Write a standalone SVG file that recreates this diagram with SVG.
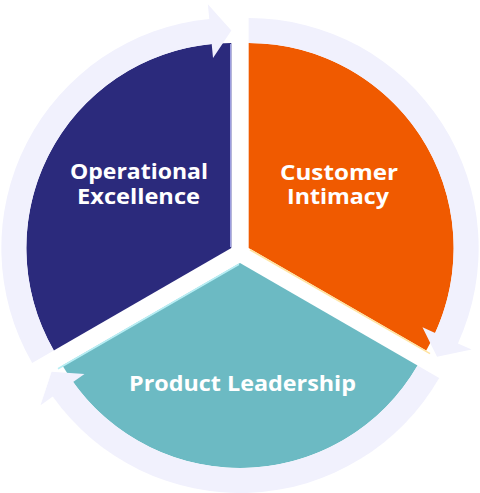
<svg xmlns="http://www.w3.org/2000/svg" width="480" height="493" viewBox="0 0 480 493">
  <style>
    .lbl { font-family: "Open Sans", "Liberation Sans", sans-serif; font-weight: 700; font-size: 22px; fill: #ffffff; text-anchor: middle; }
    .ring { fill: #F1F1FD; }
  </style>
  <rect x="0" y="0" width="480" height="493" fill="#ffffff"/>
  <g id="node-operational-excellence">
    <path d="M 231.34 248 L 231.34 43 A 205 205 0 0 0 53.80 350.5 Z" fill="#2B2A7C"/>
    <line x1="230.6" y1="44" x2="230.6" y2="247" stroke="#9C9DE0" stroke-width="1.2"/>
    <text class="lbl" x="139" y="179" textLength="138" lengthAdjust="spacingAndGlyphs">Operational</text>
    <text class="lbl" x="138.5" y="204" textLength="123" lengthAdjust="spacingAndGlyphs">Excellence</text>
  </g>
  <g id="node-customer-intimacy">
    <path d="M 248.66 248 L 248.66 43 A 205 205 0 0 1 426.20 350.5 Z" fill="#F05A00"/>
    <line x1="250" y1="249.8" x2="430" y2="353.6" stroke="#FFE3A0" stroke-width="1.6"/>
    <text class="lbl" x="339" y="180" textLength="118" lengthAdjust="spacingAndGlyphs">Customer</text>
    <text class="lbl" x="338" y="204" textLength="102" lengthAdjust="spacingAndGlyphs">Intimacy</text>
  </g>
  <g id="node-product-leadership">
    <path d="M 240 263 L 417.54 365.5 A 205 205 0 0 1 62.46 365.5 Z" fill="#6CBAC3"/>
    <line x1="239" y1="264.3" x2="58" y2="368.8" stroke="#B8EEF4" stroke-width="1.6"/>
    <text class="lbl" x="242.5" y="391" textLength="227" lengthAdjust="spacingAndGlyphs">Product Leadership</text>
  </g>
  <g id="connectors">
    <path class="ring" d="M 32.15 363 A 230 230 0 0 1 209.29 19.06 L 207.86 4.13 L 231.34 30.5 L 213.03 57.88 L 211.69 43.94 A 205 205 0 0 0 53.80 350.5 Z"/>
    <path class="ring" d="M 248.66 18 A 230 230 0 0 1 457.95 343.38 L 471.60 349.60 L 437.02 356.75 L 422.46 327.21 L 435.20 333.01 A 205 205 0 0 0 248.66 43 Z"/>
    <path class="ring" d="M 439.19 378 A 230 230 0 0 1 52.75 396.56 L 40.54 405.27 L 51.64 371.75 L 84.50 373.91 L 73.11 382.04 A 205 205 0 0 0 417.54 365.5 Z"/>
  </g>
</svg>
